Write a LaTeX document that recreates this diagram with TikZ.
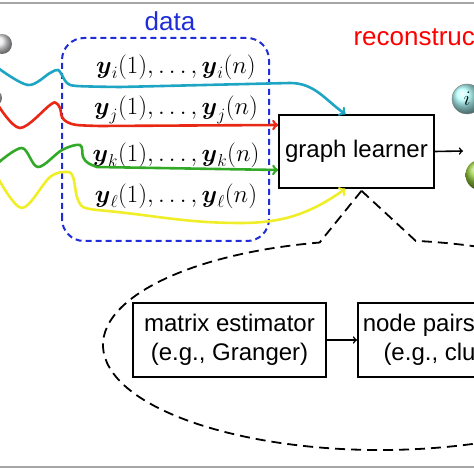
\documentclass[tikz,border=0pt]{standalone}
\usepackage{amsmath, amssymb}
\usepackage{fontspec}
\setmainfont{Liberation Sans}
\usepackage{tikz}
\usetikzlibrary{calc,shapes.callouts}

\definecolor{tealline}{RGB}{30,165,195}
\definecolor{redline}{RGB}{232,40,20}
\definecolor{greenline}{RGB}{50,170,40}
\definecolor{yellowline}{RGB}{240,238,40}
\definecolor{datablue}{RGB}{30,45,215}
\definecolor{leafgreen}{RGB}{150,205,60}

\begin{document}
\begin{tikzpicture}[x=1pt, y=1pt,
    wave/.style={line width=2.6pt, ->, line cap=round},
    box/.style={draw, line width=1.6pt, align=center, font=\fontsize{24}{29}\selectfont},
    datum/.style={font=\fontsize{26}{30}\selectfont},
    bubble/.style={draw, line width=1.8pt, dash pattern=on 10pt off 6pt}]
  \useasboundingbox (0,0) rectangle (474,474);
  \clip (0,0) rectangle (474,474);
  \draw[gray!70, line width=1.5pt] (0,471) -- (474,471) (0,7) -- (474,7);

  \node[circle, minimum size=20pt, ball color=blue!8!gray!15] (g0) at (2,430) {};
  \node[circle, minimum size=16pt, ball color=gray!15] (g1) at (-6,376) {};

  \node[text=datablue, font=\fontsize{26}{30}\selectfont] (datalbl) at (170,453) {data};
  \draw[datablue, line width=2pt, dash pattern=on 6pt off 4pt, rounded corners=22pt] (62,233) rectangle (269,436);
  \foreach \nm/\s/\yy in {yi/i/407, yj/j/364, yk/k/319, yl/\ell/278}
    \node[datum] (\nm) at (176,\yy) {$\boldsymbol{y}_{\s}(1),\ldots,\boldsymbol{y}_{\s}(n)$};

  \node[box, minimum width=155pt, minimum height=73pt] (learner) at (356.5,322.5) {graph learner};

  \draw[wave, tealline] plot[smooth, tension=0.55] coordinates {(-2,406) (28,389) (50,401) (58,404) (63,397) (67,391) (77,388) (120,387)}
    -- (290,391) to[out=0, in=145] ($(learner.north)+(-11,0)$);
  \draw[wave, redline] plot[smooth, tension=0.55] coordinates {(-2,369) (20,346) (50,369) (56,371) (60,366) (62,357) (67,352) (77,349) (100,348)}
    -- ($(learner.west)+(0,26.5)$);
  \draw[wave, greenline] plot[smooth, tension=0.55] coordinates {(-2,311) (22,326) (38,307) (62,324) (80,329) (83,317) (88,311) (97,307)}
    -- ($(learner.west)+(0,-18.5)$);
  \draw[wave, yellowline] plot[smooth, tension=0.55] coordinates {(-2,296) (22,266) (50,297) (67,302) (73,297) (77,277) (83,267) (97,264)}
    to[out=-5, in=180] (240,251) to[out=0, in=-145] ($(learner.south)+(-11,0)$);

  \node[anchor=west, text=red, font=\fontsize{26}{30}\selectfont] (rec) at (350,438) {reconstruction};
  \node[circle, minimum size=30pt, ball color=cyan!30, draw=black!50, font=\fontsize{20}{24}\selectfont] (ni) at (467,375) {$i$};
  \node[circle, minimum size=31pt, ball color=leafgreen] (nj) at (481,299) {};
  \coordinate (recg) at (463,323);
  \draw[->, line width=1.6pt] (learner.east) -- (recg);

  \node[ellipse callout, bubble, minimum width=554pt, minimum height=210pt,
    callout absolute pointer={($(learner.south)+(5,-2)$)}, callout pointer arc=20] (zoomin) at (380,129) {};
  \node[box, minimum width=193pt, minimum height=74pt] (estim) at (229.5,134) {matrix estimator\\(e.g., Granger)};
  \node[box, anchor=west, minimum height=74pt, inner sep=5pt] (pairs) at (357,134) {node pairs selection\\(e.g., clustering)};
  \draw[->, line width=1.6pt] (estim) -- (pairs);
\end{tikzpicture}
\end{document}
